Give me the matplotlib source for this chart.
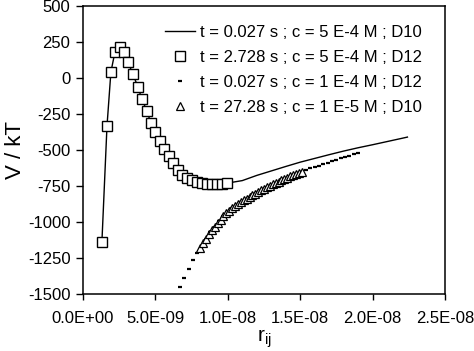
import numpy as np
import matplotlib
matplotlib.use("Agg")
import matplotlib.pyplot as plt
from matplotlib.ticker import FuncFormatter, MultipleLocator

plt.rcParams["font.family"] = ["Liberation Sans", "DejaVu Sans"]
plt.rcParams["axes.unicode_minus"] = False

# r_ij in nm (converted to m when plotting), V/kT values
# D12, t = 2.728 s, c = 5E-4 M (squares)
r_sq = [1.31, 1.66, 1.93, 2.21, 2.55, 2.83, 3.10, 3.45, 3.79, 4.07, 4.41, 4.69,
        4.97, 5.31, 5.59, 5.93, 6.21, 6.55, 6.83, 7.17, 7.52, 7.86, 8.21, 8.55,
        8.90, 9.24, 9.59, 9.93]
v_sq = [-1135, -333, 42, 181, 215, 181, 111, 28, -62, -146, -229, -312,
        -375, -437, -493, -542, -590, -640, -672, -694, -708, -720, -728, -733,
        -735, -735, -734, -730]

# D10, t = 0.027 s, c = 5E-4 M (line)
r_line = r_sq + [11.0, 12.0, 13.0, 14.0, 15.0, 16.0, 17.0, 18.0, 19.0, 20.0,
                 21.0, 22.0, 22.4]
v_line = v_sq + [-712, -676, -645, -614, -584, -558, -532, -507, -484, -463,
                 -441, -419, -410]

# D12, t = 0.027 s, c = 1E-4 M (dashes)
r_dash = [6.7, 7.0, 7.3, 7.6, 7.9, 8.2, 8.5, 8.8, 9.1, 9.4, 9.7, 10.0, 10.3,
          10.6, 10.9, 11.2, 11.5, 11.8, 12.1, 12.4, 12.7, 13.0, 13.3, 13.6,
          13.9, 14.2, 14.5, 14.8, 15.1, 15.4, 15.7, 16.0, 16.3, 16.6, 16.9,
          17.2, 17.5, 17.8, 18.1, 18.4, 18.7, 19.0]
v_dash = [-1450, -1385, -1325, -1265, -1215, -1165, -1115, -1072, -1032, -995,
          -961, -930, -905, -882, -861, -843, -825, -808, -791, -775, -759,
          -744, -729, -715, -701, -688, -675, -662, -650, -639, -628, -618,
          -608, -598, -588, -578, -568, -558, -548, -538, -528, -518]

# D10, t = 27.28 s, c = 1E-5 M (triangles)
r_tri = [8.1, 8.3, 8.5, 8.7, 8.9, 9.1, 9.3, 9.5, 9.7, 9.9, 10.1, 10.3, 10.5,
         10.7, 10.9, 11.1, 11.3, 11.5, 11.7, 11.9, 12.1, 12.3, 12.5, 12.7,
         12.9, 13.1, 13.3, 13.5, 13.7, 13.9, 14.1, 14.3, 14.5, 14.7, 14.9, 15.1]
v_tri = [-1182, -1148, -1115, -1086, -1058, -1032, -1008, -985, -961, -939,
         -922, -905, -890, -875, -861, -849, -837, -825, -814, -802, -791,
         -780, -770, -759, -749, -739, -729, -720, -710, -701, -692, -683,
         -675, -666, -658, -650]

labels = ["t = 0.027 s ; c = 5 E-4 M ; D10",
          "t = 2.728 s ; c = 5 E-4 M ; D12",
          "t = 0.027 s ; c = 1 E-4 M ; D12",
          "t = 27.28 s ; c = 1 E-5 M ; D10"]

nm = 1e-9
fig = plt.figure(figsize=(4.74, 3.51), dpi=100)
ax = fig.add_axes([0.175, 0.162, 0.764, 0.821])

ax.plot(np.array(r_line) * nm, v_line, color="black", lw=1.0, label=labels[0])
ax.plot(np.array(r_sq) * nm, v_sq, ls="none", marker="s", ms=7.5, mfc="white",
        mec="black", mew=1.0, label=labels[1])
ax.plot(np.array(r_dash) * nm, v_dash, ls="none", marker="_", ms=3, mew=1.6,
        color="black", label=labels[2])
ax.plot(np.array(r_tri) * nm, v_tri, ls="none", marker="^", ms=5.5, mfc="white",
        mec="black", mew=0.9, label=labels[3])

ax.set_xlim(0, 2.5e-8)
ax.set_ylim(-1500, 500)
ax.xaxis.set_major_locator(MultipleLocator(5e-9))
ax.yaxis.set_major_locator(MultipleLocator(250))
ax.xaxis.set_major_formatter(FuncFormatter(lambda x, p: f"{x:.1E}"))
ax.tick_params(axis="both", direction="out", labelsize=12, width=1.0)
ax.tick_params(axis="y", length=5, pad=4)
ax.tick_params(axis="x", length=4, pad=8)
for s in ax.spines.values():
    s.set_linewidth(1.1)

ax.set_xlabel(r"r$_{\mathregular{ij}}$", fontsize=15, labelpad=1)
ax.set_ylabel("V / kT", fontsize=16, labelpad=1)

ax.legend(loc="upper right", frameon=False, fontsize=12, handlelength=1.8,
          handletextpad=0.3, labelspacing=0.6, borderpad=0.4,
          bbox_to_anchor=(0.978, 0.985))

fig.savefig("out.png", dpi=100)
